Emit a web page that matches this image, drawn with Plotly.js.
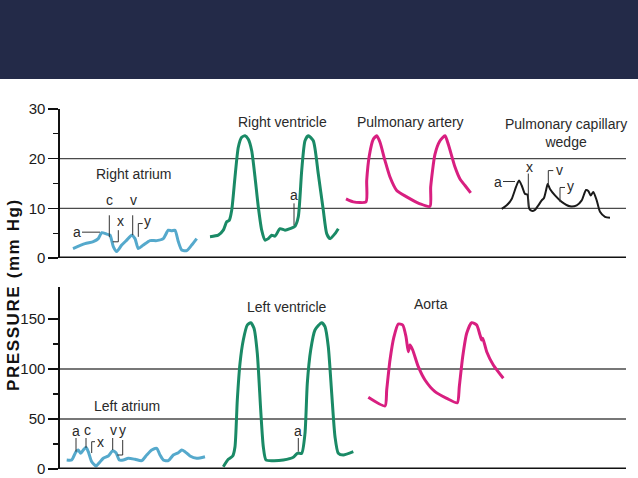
<!DOCTYPE html>
<html>
<head>
<meta charset="utf-8">
<script src="https://cdn.plot.ly/plotly-3.0.1.min.js"></script>
<style>
html,body{margin:0;padding:0;background:#fff;}
#chart{width:638px;height:478px;}
text[data-unformatted*="PRESSURE"]{letter-spacing:1.6px;}
</style>
</head>
<body>
<div id="chart"></div>
<script>
// ---- Data (time in arbitrary units, pressure in mm Hg) ----
// Top panel (right heart)
const raTime = [73,85,93.3,98.3,101.7,106.7,110,113.3,116.7,121.7,126.7,131.7,135,138.3,143.3,150,156.7,163.3,168.3,171.7,175,178.3,181.7,186.7,191.7,196.7];
const raP    = [1.9,2.9,3.3,3.9,5.1,4.8,4.6,2.3,1.3,2.6,3.6,4.6,3.9,1.9,2.6,3.5,3.5,3.9,5.6,5.5,5.6,3.3,1.6,1.5,2.6,3.9];

const rvTime = [210,218.3,223.3,226.7,229.3,231.7,235,238.3,241.7,245,248.3,251.7,255,258.3,261.7,265,268.3,271.7,275,280,285,290,295,298.3,301.7,305,308.3,313.3,318.3,323.3,326.7,330,335,338.3];
const rvP    = [4.3,4.6,5.6,7.3,7.6,9.6,16.3,22.3,24.3,24.6,23.9,21.6,16.3,10.3,5.6,3.6,3.9,4.6,4.4,5.9,5.6,5.9,6.4,8.3,17.6,23.6,24.6,23.6,16.9,9.6,4.9,3.9,4.9,5.9];

const paTime = [346,353.3,366,366.7,369.3,373.3,376.7,380,385,390,396.7,406.7,420,430,430.7,435,440,445,448.3,455,460,465,470.7];
const paP    = [11.9,11.3,11.3,15.6,20.6,23.9,24.6,23.3,19.6,16.3,13.6,12.3,10.9,10.4,14.3,20.9,23.6,24.6,22.9,18.3,15.9,14.6,13.1];

const pcwTime = [501.7,506.7,511.7,516,519,521.7,525,527.3,529.3,531.7,535,538.3,541.7,544,546,547.7,550,555,561.7,570,576.7,581.7,586,588.3,590.7,593.3,596.7,600,605,610];
const pcwP    = [9.9,10.6,11.9,14.3,15.6,14.6,12.9,12.8,9.9,9.5,9.7,10.6,11.6,12.1,13.6,14.9,13.9,12.6,11.3,10.4,10.6,11.6,13.7,13.5,12.6,13.3,11.6,9.3,8.3,8.1];

// Bottom panel (left heart)
const laTime = [66.7,71.7,76,78.3,80.7,83.3,86,88.3,91.7,96,99.3,103.3,108.3,112.7,116,119.3,123.3,128.3,135,141.7,146.7,151.7,156.7,160,163.3,168.3,173.3,178.3,181.7,185,190,196.7,205];
const laP    = [9,9,17.3,19,15.7,19,21.7,17.3,7.3,3,6.3,10.7,13,18.3,16.3,9,9,10.7,9.7,8.3,14,19,20.7,14,9,8.3,14,16.3,19,17.3,13,10.7,12.3];

const lvTime = [223.3,228.3,232.7,235,237.3,240,243.3,247.3,250.7,254,257.3,260.7,263.3,266,273.3,283.3,293.3,297.3,301.7,305,307.3,310.7,315,321.7,325,328.3,331.7,335,338.3,343.3,353.3];
const lvP    = [2.3,9.7,13,22.3,69,105.7,129,144,146.3,140.7,115.7,59,22.3,9,8.3,9,11.7,15.7,15.7,35.7,85.7,119,139,146.3,142.3,122.3,75.7,32.3,15.7,14,17.3];

const aoTime = [368.3,385,386.7,390,394,398.3,402.7,406,408.3,410,412.7,418.3,425,435,446.7,457.3,459.3,462.7,466.7,471.7,476.7,480,481.7,482.7,486.7,493.3,503.3];
const aoP    = [71.7,63,79,109,132.3,145,144,132.3,117.3,124,119,102.3,89,77.3,70.7,66.3,82.3,112.3,135.7,146.3,144,134,129,130.7,117.3,104,90.7];

// Axis ticks and reference lines
const topTicks = [0,10,20,30];
const bottomTicks = [0,50,100,150];
const topGrid = [10,20];
const bottomGrid = [50,100];

// Chamber titles: [text, time, pressure, panel]
const titles = [
  ["Right atrium", 133, 17.0, "top"],
  ["Right ventricle", 282, 27.4, "top"],
  ["Pulmonary artery", 410, 27.4, "top"],
  ["Pulmonary capillary<br>wedge", 566, 25.2, "top"],
  ["Left atrium", 127, 63, "bottom"],
  ["Left ventricle", 287, 162, "bottom"],
  ["Aorta", 431, 165, "bottom"]
];
// Wave letters: [text, time, pressure, panel]
const waveLetters = [
  ["a", 77, 5.2, "top"], ["c", 109, 11.6, "top"], ["x", 120.5, 7.4, "top"], ["v", 133, 11.6, "top"], ["y", 147, 7.4, "top"],
  ["a", 294, 12.6, "top"],
  ["a", 498, 15.4, "top"], ["x", 529, 18.4, "top"], ["v", 559, 17.8, "top"], ["y", 570, 14.4, "top"],
  ["a", 76, 38, "bottom"], ["c", 87, 39, "bottom"], ["x", 100, 27, "bottom"], ["v", 113, 39, "bottom"], ["y", 122, 39, "bottom"],
  ["a", 298.3, 38, "bottom"]
];
// Leader marks for wave letters: [times[], pressures[], panel]
const leaders = [
  [[82,100],[5.2,5.2],"top"],
  [[109.3,109.3],[8.6,4.2],"top"],
  [[112.7,118.3,118.3],[3.26,3.26,5.6],"top"],
  [[132.7,132.7],[8.6,4.6],"top"],
  [[138.3,138.3,142.7],[4.26,6.94,6.94],"top"],
  [[294,294],[11.0,6.6],"top"],
  [[503,515],[15.4,15.4],"top"],
  [[528.3,528.3],[17,10.2],"top"],
  [[548.3,548.3,553.3],[14.6,17.6,17.6],"top"],
  [[560,560,565],[11.26,14.2,14.2],"top"],
  [[76,76],[31,17.3],"bottom"],
  [[86,86],[31,21],"bottom"],
  [[91.7,91.7,95],[16,27.3,27.3],"bottom"],
  [[112.7,112.7],[31,19],"bottom"],
  [[117.3,122.7,122.7],[14,14,29],"bottom"],
  [[298.3,298.3],[31,17.3],"bottom"]
];

// ---- Build ----
const BLUE = "#55a9cc", GREEN = "#1a8a66", MAGENTA = "#d81f80", BLACK = "#1a1a1a";
const SANS = "'Liberation Sans', Arial, sans-serif";

function wave(t, p, color, width, panel){
  return {type:"scatter", mode:"lines", x:t, y:p,
    xaxis: panel==="top" ? "x" : "x2", yaxis: panel==="top" ? "y" : "y2",
    line:{color:color, width:width, shape:"spline", smoothing:0.6}, hoverinfo:"skip", showlegend:false};
}
const traces = [
  wave(raTime, raP, BLUE, 3, "top"),
  wave(rvTime, rvP, GREEN, 3, "top"),
  wave(paTime, paP, MAGENTA, 3, "top"),
  wave(pcwTime, pcwP, BLACK, 2, "top"),
  wave(laTime, laP, BLUE, 3, "bottom"),
  wave(lvTime, lvP, GREEN, 3, "bottom"),
  wave(aoTime, aoP, MAGENTA, 3, "bottom")
];
leaders.forEach(l => traces.push({type:"scatter", mode:"lines", x:l[0], y:l[1],
  xaxis: l[2]==="top" ? "x" : "x2", yaxis: l[2]==="top" ? "y" : "y2",
  line:{color:"#333", width:1}, hoverinfo:"skip", showlegend:false}));

const annotations = [];
annotations.push({text:"<b>PRESSURE (mm Hg)</b>", xref:"paper", yref:"paper", x:-0.083, y:1-295/478,
  textangle:-90, showarrow:false, xanchor:"center", yanchor:"middle",
  font:{family:SANS, size:17, color:"#111"}});
titles.forEach(t => annotations.push({text:t[0], x:t[1], y:t[2],
  xref: t[3]==="top" ? "x" : "x2", yref: t[3]==="top" ? "y" : "y2",
  showarrow:false, xanchor:"center", yanchor:"middle",
  font:{family:SANS, size:14, color:"#2a2a2a"}}));
waveLetters.forEach(t => annotations.push({text:t[0], x:t[1], y:t[2],
  xref: t[3]==="top" ? "x" : "x2", yref: t[3]==="top" ? "y" : "y2",
  showarrow:false, xanchor:"center", yanchor:"middle",
  font:{family:SANS, size:14, color:"#2a2a2a"}}));

const shapes = [];
shapes.push({type:"rect", xref:"paper", yref:"paper", x0:-0.2, x1:1.1, y0:1-79/478, y1:1.02,
  fillcolor:"#232a48", line:{width:0}, layer:"above"});
topGrid.forEach(v => shapes.push({type:"line", xref:"paper", yref:"y", x0:0, x1:1, y0:v, y1:v,
  line:{color:"#4a4a4a", width:1.3}, layer:"below"}));
bottomGrid.forEach(v => shapes.push({type:"line", xref:"paper", yref:"y2", x0:0, x1:1, y0:v, y1:v,
  line:{color:"#4a4a4a", width:1.3}, layer:"below"}));
// baselines (0 mm Hg)
shapes.push({type:"line", xref:"paper", yref:"y", x0:-0.002, x1:1, y0:0, y1:0, line:{color:"#111", width:3}, layer:"above"});
shapes.push({type:"line", xref:"paper", yref:"y2", x0:-0.002, x1:1, y0:0, y1:0, line:{color:"#111", width:3}, layer:"above"});

const tickFont = {family:SANS, size:15, color:"#1a1a1a"};
const xCommon = {range:[60,626], domain:[0,1], showgrid:false, zeroline:false, showticklabels:false,
  ticks:"", showline:false, fixedrange:true};
const yCommon = {showgrid:false, zeroline:false, showline:true, linecolor:"#111", linewidth:1.6,
  ticks:"outside", ticklen:10, tickwidth:1.3, tickcolor:"#111", tickfont:tickFont, tickmode:"array",
  automargin:false, fixedrange:true};

const layout = {
  width:638, height:478, margin:{l:60, r:12, t:0, b:0},
  paper_bgcolor:"#fff", plot_bgcolor:"rgba(0,0,0,0)", showlegend:false,
  xaxis: Object.assign({}, xCommon, {anchor:"y"}),
  xaxis2: Object.assign({}, xCommon, {anchor:"y2"}),
  yaxis: Object.assign({}, yCommon, {domain:[1-258/478, 1-109/478], range:[0,30], tickvals:topTicks, ticktext:topTicks.map(String),
    minor:{tickvals:[5,15,25], ticks:"outside", ticklen:5, tickwidth:1.3, tickcolor:"#111"}, anchor:"x"}),
  yaxis2: Object.assign({}, yCommon, {domain:[1-469/478, 1-287/478], range:[0,182], tickvals:bottomTicks, ticktext:bottomTicks.map(String),
    minor:{tickvals:[25,75,125], ticks:"outside", ticklen:5, tickwidth:1.3, tickcolor:"#111"}, anchor:"x2"}),
  annotations: annotations,
  shapes: shapes
};

Plotly.newPlot("chart", traces, layout, {staticPlot:true, displayModeBar:false});
</script>
</body>
</html>
